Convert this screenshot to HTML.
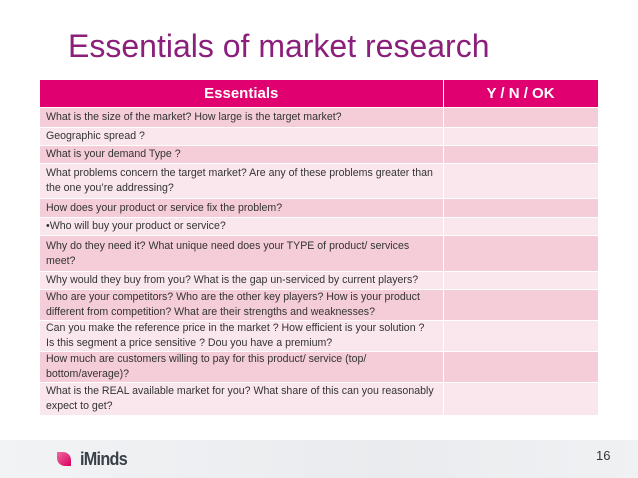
<!DOCTYPE html>
<html><head><meta charset="utf-8"><style>
body{margin:0;width:638px;height:478px;background:#fff;position:relative;overflow:hidden;font-family:"Liberation Sans",Arial,sans-serif}
#title{position:absolute;left:68px;top:28px;font-size:32px;color:#8b1f7b;white-space:nowrap}
table{position:absolute;left:40px;top:80px;width:558px;border-collapse:collapse;table-layout:fixed}
th{background:#e0006f;color:#fff;font-size:15px;font-weight:bold;height:27px;padding:0;border-right:1px solid #fff}
td{font-size:10.6px;color:#333;padding:0 6px;line-height:15px;border-top:1px solid #fff;border-right:1px solid #fff;vertical-align:middle;white-space:nowrap}
tr.a td{background:#f4cdd9}
tr.b td{background:#fae7ee}
#footer{position:absolute;left:0;top:440px;width:638px;height:38px;background:linear-gradient(to right,#f2f3f5,#e9ebee 60%,#f0f1f3)}
#logo{position:absolute;left:80px;top:449px;font-size:18px;font-weight:bold;color:#3a4049;letter-spacing:-0.8px;transform:scaleX(0.9);transform-origin:left}
#leaf{position:absolute;left:57px;top:452px;width:14px;height:14px;background:linear-gradient(135deg,#f06a9e,#d8005f);border-radius:0 8px 0 8px}
#pg{position:absolute;left:596px;top:448px;font-size:13px;color:#333}
</style></head><body>
<div id="title">Essentials of market research</div>
<table>
<colgroup><col style="width:403px"><col style="width:155px"></colgroup>
<tr><th>Essentials</th><th>Y / N / OK</th></tr>
<tr class="a" style="height:20px"><td>What is the size of the market? How large is the target market?</td><td></td></tr>
<tr class="b" style="height:18px"><td>Geographic spread ?</td><td></td></tr>
<tr class="a" style="height:18px"><td>What is your demand Type ?</td><td></td></tr>
<tr class="b" style="height:35px"><td>What problems concern the target market? Are any of these problems greater than<br>the one you’re addressing?</td><td></td></tr>
<tr class="a" style="height:19px"><td>How does your product or service fix the problem?</td><td></td></tr>
<tr class="b" style="height:18px"><td>•Who will buy your product or service?</td><td></td></tr>
<tr class="a" style="height:36px"><td>Why do they need it? What unique need does your TYPE of product/ services<br>meet?</td><td></td></tr>
<tr class="b" style="height:18px"><td>Why would they buy from you? What is the gap un-serviced by current players?</td><td></td></tr>
<tr class="a" style="height:30px"><td>Who are your competitors? Who are the other key players? How is your product<br>different from competition? What are their strengths and weaknesses?</td><td></td></tr>
<tr class="b" style="height:31px"><td>Can you make the reference price in the market ? How efficient is your solution ?<br>Is this segment a price sensitive ? Dou you have a premium?</td><td></td></tr>
<tr class="a" style="height:31px"><td>How much are customers willing to pay for this product/ service (top/<br>bottom/average)?</td><td></td></tr>
<tr class="b" style="height:32px"><td>What is the REAL available market for you? What share of this can you reasonably<br>expect to get?</td><td></td></tr>
</table>
<div id="footer"></div>
<div id="leaf"></div>
<div id="logo">iMinds</div>
<div id="pg">16</div>
</body></html>
